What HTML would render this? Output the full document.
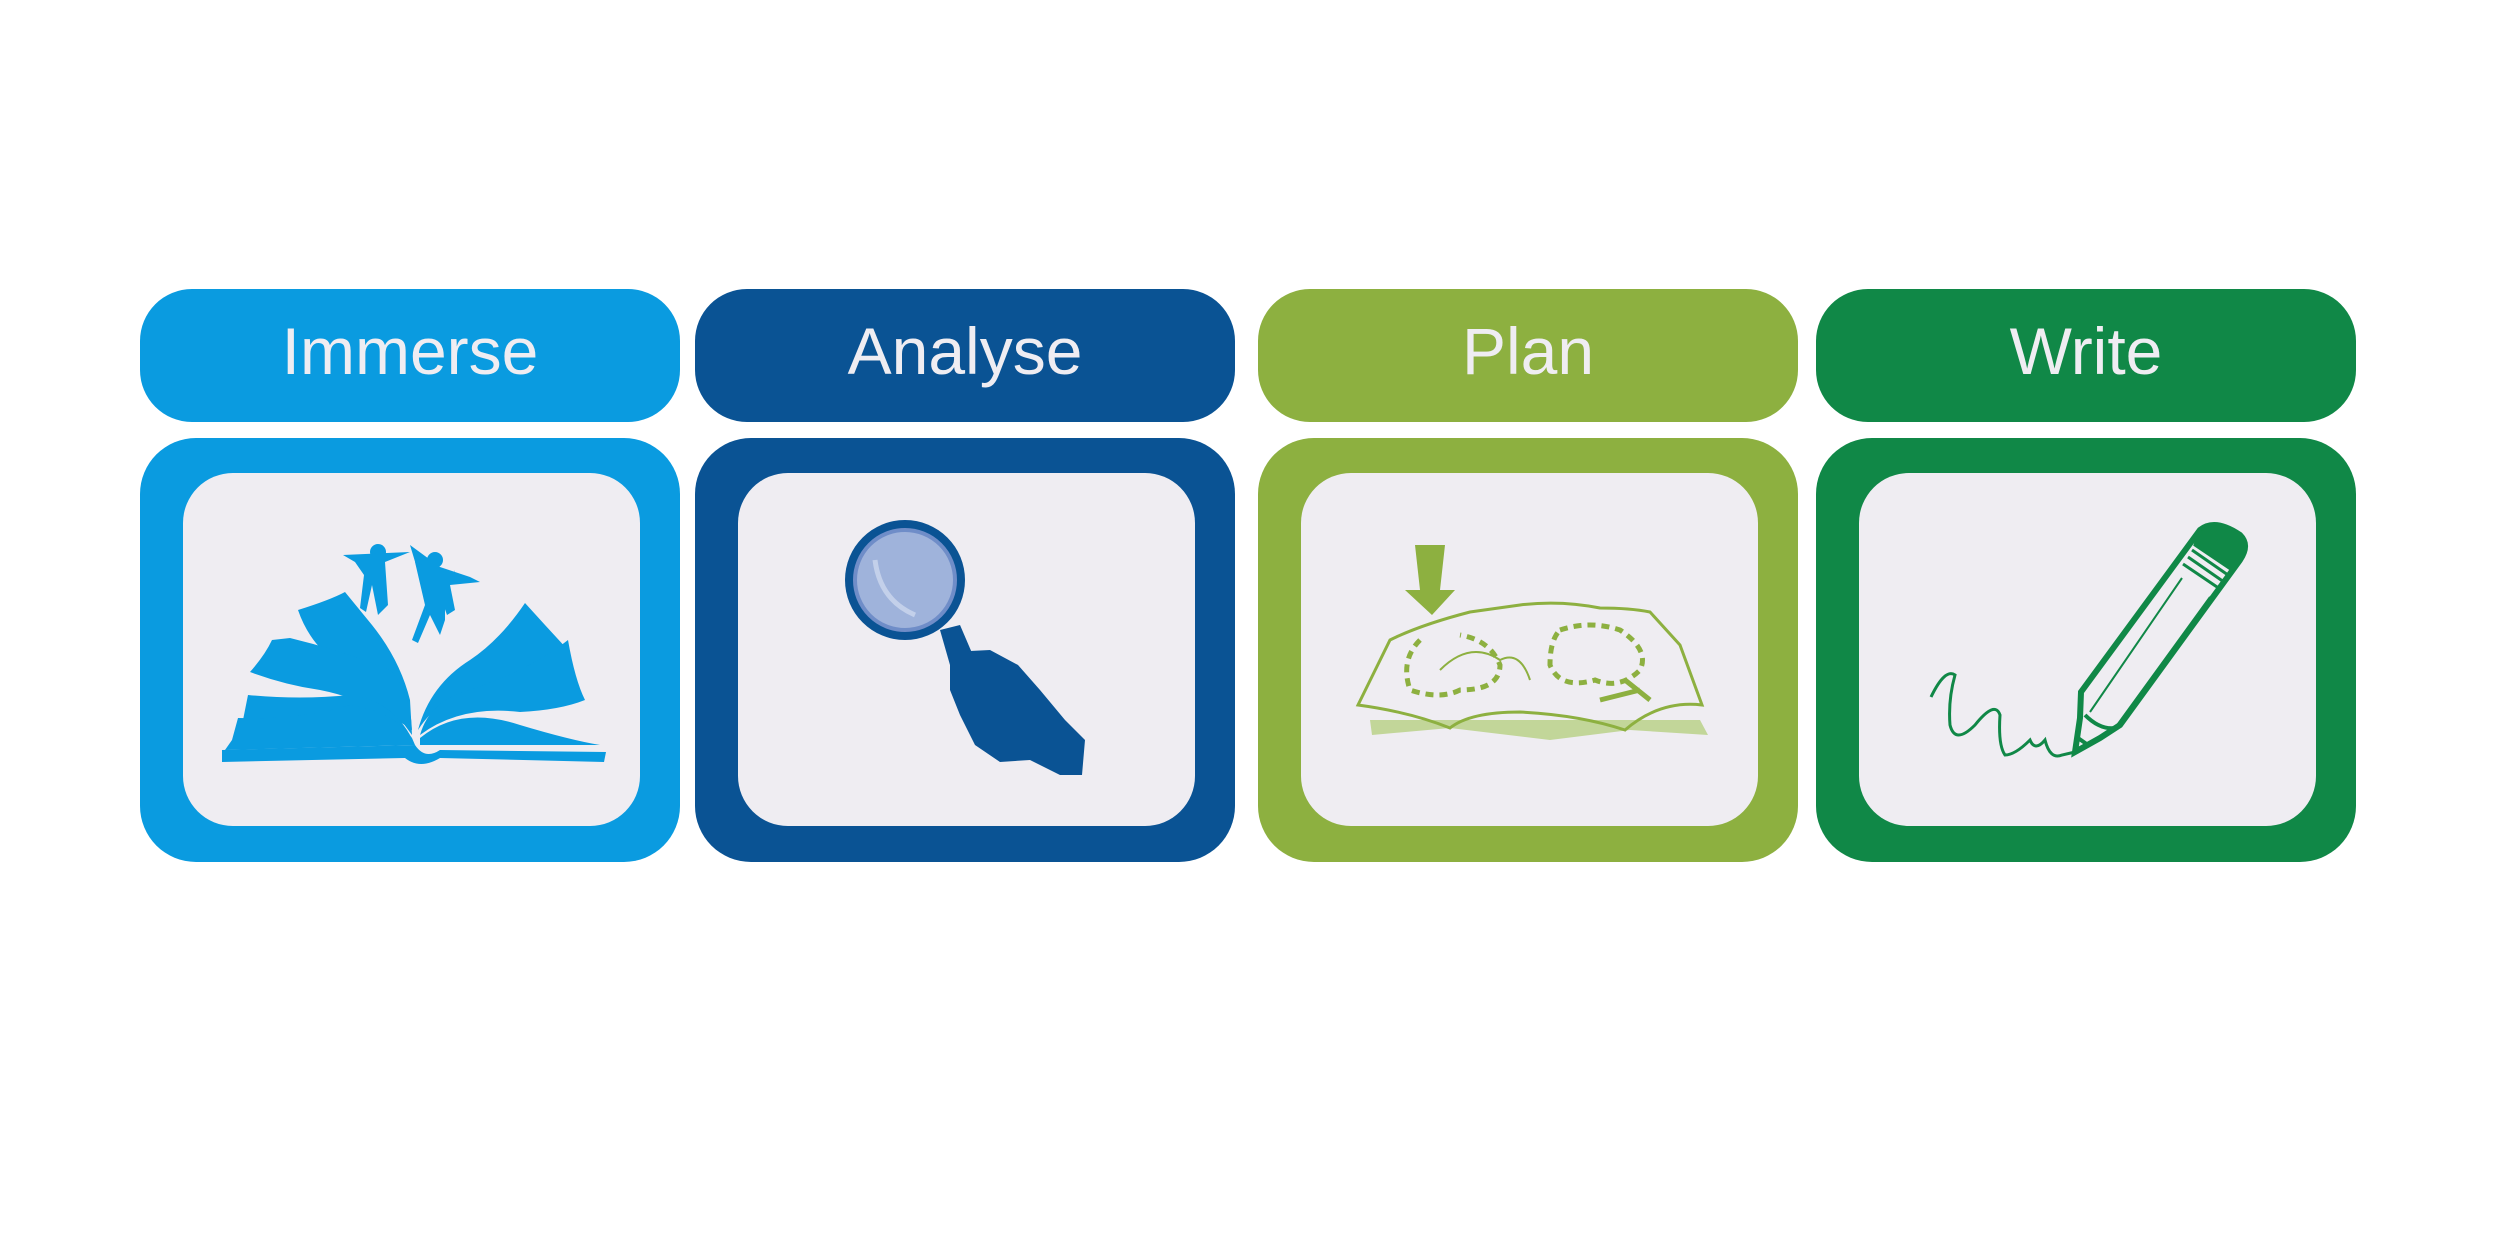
<!DOCTYPE html>
<html><head><meta charset="utf-8"><style>
html,body{margin:0;padding:0;background:#fff;}
body{width:2500px;height:1250px;position:relative;overflow:hidden;font-family:"Liberation Sans",sans-serif;}
.h{position:absolute;top:289px;width:540px;height:133px;border-radius:52px;color:#efedf2;font-size:66px;text-align:center;line-height:124px;}
.b{position:absolute;top:438px;width:540px;height:424px;border-radius:56px;}
.p{position:absolute;left:43px;top:35px;width:457px;height:353px;border-radius:50px;background:#efedf2;}
svg{position:absolute;left:0;top:0;}
</style></head><body>
<div class="h" style="left:140px;background:#0a9be0">Immerse</div>
<div class="h" style="left:695px;background:#0a5394">Analyse</div>
<div class="h" style="left:1258px;background:#8db040">Plan</div>
<div class="h" style="left:1816px;background:#108847">Write</div>
<div class="b" style="left:140px;background:#0a9be0"><div class="p"></div></div>
<div class="b" style="left:695px;background:#0a5394"><div class="p"></div></div>
<div class="b" style="left:1258px;background:#8db040"><div class="p"></div></div>
<div class="b" style="left:1816px;background:#108847"><div class="p"></div></div>
<svg width="2500" height="1250" viewBox="0 0 2500 1250">
<!-- Book -->
<g fill="#0a9be0">
<path d="M298 610 Q330 600 345 592 L372 625 Q400 660 410 700 L412 735 Q380 690 340 665 Q310 645 298 610Z"/>
<path d="M272 640 L290 638 Q340 650 390 670 Q410 690 412 730 Q370 700 320 690 Q285 685 250 672 Q265 655 272 640Z"/>
<path d="M248 695 Q300 700 350 695 Q390 700 410 735 Q360 710 300 725 L240 735Z"/>
<path d="M238 718 Q300 720 350 705 Q395 712 412 738 L415 745 L225 750 L232 740Z"/>
<path d="M525 603 Q500 640 470 660 Q430 685 418 730 Q440 695 490 685 Q540 680 568 650 L545 625Z"/>
<path d="M568 640 Q530 670 470 690 Q430 700 420 735 Q460 705 520 712 Q560 710 585 700 Q575 680 568 640Z"/>
<path d="M420 738 Q460 705 520 725 Q570 740 600 745 L420 745Z"/>
<path d="M222 750 L415 745 Q425 760 440 750 L606 752 L604 762 L440 758 Q420 770 405 758 L222 762Z"/>
<circle cx="378" cy="552" r="8"/><path d="M343 555 L410 552 L385 562 L388 605 L378 615 L372 585 L366 612 L360 608 L364 575 L355 562Z"/>
<circle cx="435" cy="560" r="8"/><path d="M410 545 L440 567 L470 577 L480 582 L450 585 L455 610 L447 615 L440 595 L430 610 L425 595Z"/>
<path d="M415 562 L425 605 L412 640 L418 643 L430 615 L440 635 L445 620 L445 595 L455 570 L440 593 L430 590 L422 565Z"/>
</g>
<!-- Magnifier -->
<g>
<path d="M950 652 L990 650 L1018 665 L1040 690 L1065 720 L1085 740 L1082 775 L1060 775 L1030 760 L1000 762 L975 745 L960 715 L950 690Z" fill="#0a5394"/>
<path d="M940 630 L960 625 L975 660 L960 670 L950 665Z" fill="#0a5394"/>
<circle cx="905" cy="580" r="60" fill="#0a5394"/>
<circle cx="905" cy="580" r="50" fill="#9fb3db" stroke="#6f8dc8" stroke-width="4"/>
<path d="M875 560 Q880 600 915 615" stroke="#c3d0ea" stroke-width="5" fill="none"/>
</g>
<!-- Map -->
<g fill="none" stroke="#8db040" stroke-width="3">
<path d="M1370 720 L1700 720 L1708 735 L1630 730 L1550 740 L1450 728 L1372 735Z" fill="#c2d699" stroke="none"/>
<path d="M1358 705 L1390 640 Q1420 625 1470 612 L1520 605 Q1560 600 1600 608 Q1630 608 1650 612 L1680 645 L1702 705 Q1660 700 1625 730 Q1580 715 1520 712 Q1470 712 1450 728 Q1410 712 1358 705Z"/>
<path d="M1420 640 Q1400 660 1410 690 Q1440 700 1460 690 Q1500 690 1500 665 Q1490 640 1460 635" stroke-dasharray="8 6" stroke-width="5"/>
<path d="M1560 630 Q1590 620 1620 630 Q1650 650 1640 670 Q1620 690 1595 680 Q1560 690 1550 665 Q1550 640 1560 630" stroke-dasharray="8 6" stroke-width="5"/>
<path d="M1600 700 L1640 690 M1625 680 L1650 700" stroke-width="5"/>
<path d="M1440 670 Q1470 640 1500 660 Q1520 650 1530 680" stroke-width="2"/>
</g>
<path d="M1415 545 L1445 545 L1440 590 L1455 590 L1432 615 L1405 590 L1420 590Z" fill="#8db040"/>
<!-- Pencil -->
<g fill="none" stroke="#108847">
<path d="M2081 692 L2200 530 Q2215 518 2240 535 Q2250 545 2240 560 L2120 725 L2100 738 L2075 752 L2080 718Z" fill="#efedf2" stroke-width="6"/>
<path d="M2200 530 Q2215 518 2240 535 Q2250 545 2240 560 L2232 570 L2195 545Z" fill="#108847" stroke-width="3"/>
<path d="M2192 550 L2228 575 M2188 557 L2224 582 M2183 564 L2220 589" stroke-width="3"/>
<path d="M2085 715 Q2100 730 2115 728 M2078 738 L2088 745" stroke-width="4"/>
<path d="M2182 578 L2090 712 M2210 597 L2115 728" stroke-width="2"/>
<path d="M1931 697 Q1945 668 1955 675 Q1948 700 1950 725 Q1955 745 1975 725 Q1995 700 2000 715 Q1998 745 2005 755 Q2015 755 2030 740 Q2035 752 2045 740 Q2050 760 2062 755 L2075 752" stroke-width="3"/>
</g>
</svg>
</body></html>
